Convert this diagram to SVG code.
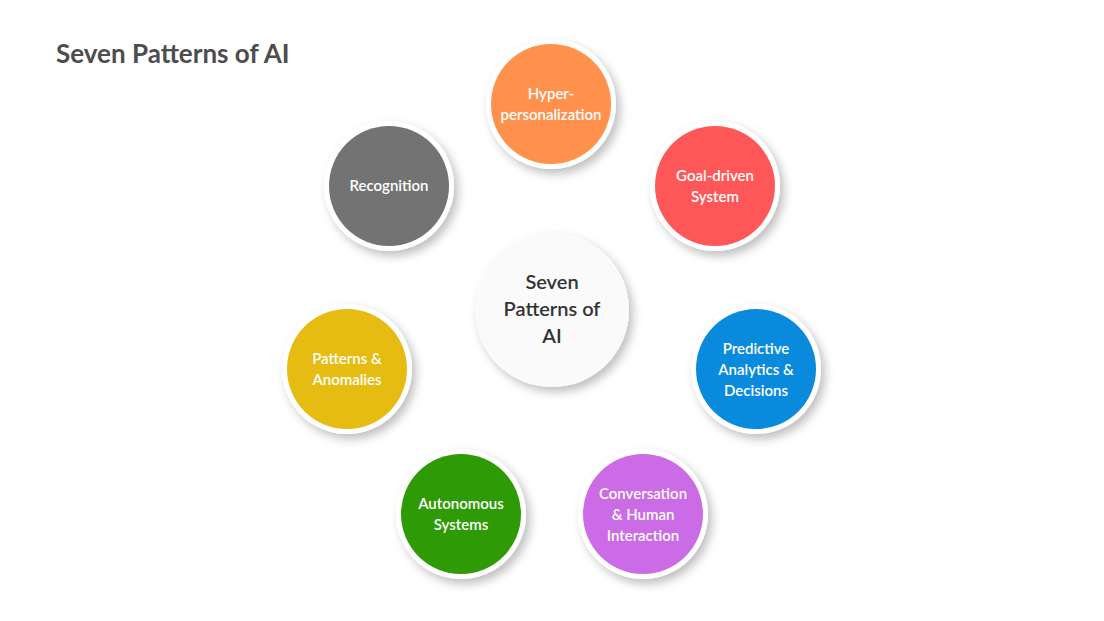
<svg xmlns="http://www.w3.org/2000/svg" width="1104" height="621" viewBox="0 0 1104 621">
<defs>
<filter id="sh" x="-30%" y="-30%" width="160%" height="160%"><feDropShadow dx="4" dy="5" stdDeviation="5" flood-color="#000" flood-opacity="0.25"/></filter>
<style>
.ring{fill:#fff;filter:url(#sh)}
.lbl{font-family:Lato,"Open Sans",sans-serif;font-size:15px;font-weight:600;fill:#fff;text-anchor:middle}
.ctr{font-family:Lato,"Open Sans",sans-serif;font-size:20px;font-weight:600;fill:#333;text-anchor:middle}
</style>
</defs>
<rect width="1104" height="621" fill="#fff"/>
<text x="56" y="63" font-family="Lato,'Open Sans',sans-serif" font-size="26" font-weight="700" fill="#4d4d4d">Seven Patterns of AI</text>
<g id="connectors"/>
<g id="center"><circle cx="552" cy="310" r="77" fill="#fafafa" filter="url(#sh)"/>
<text class="ctr" x="552" y="289">Seven</text><text class="ctr" x="552" y="316">Patterns of</text><text class="ctr" x="552" y="343">AI</text></g>
<g id="hyper"><circle class="ring" cx="551" cy="104" r="65"/><circle cx="551" cy="104" r="60" fill="#FF914D"/>
<text class="lbl" x="551" y="99">Hyper-</text><text class="lbl" x="551" y="120">personalization</text></g>
<g id="recognition"><circle class="ring" cx="389" cy="186" r="65"/><circle cx="389" cy="186" r="60" fill="#737373"/>
<text class="lbl" x="389" y="191">Recognition</text></g>
<g id="goal"><circle class="ring" cx="715" cy="186" r="65"/><circle cx="715" cy="186" r="60" fill="#FF5757"/>
<text class="lbl" x="715" y="181">Goal-driven</text><text class="lbl" x="715" y="202">System</text></g>
<g id="patterns"><circle class="ring" cx="347" cy="369" r="65"/><circle cx="347" cy="369" r="60" fill="#E6BC12"/>
<text class="lbl" x="347" y="364">Patterns &amp;</text><text class="lbl" x="347" y="385">Anomalies</text></g>
<g id="predictive"><circle class="ring" cx="756" cy="369" r="65"/><circle cx="756" cy="369" r="60" fill="#0A8ADD"/>
<text class="lbl" x="756" y="354">Predictive</text><text class="lbl" x="756" y="375">Analytics &amp;</text><text class="lbl" x="756" y="396">Decisions</text></g>
<g id="autonomous"><circle class="ring" cx="461" cy="514" r="65"/><circle cx="461" cy="514" r="60" fill="#2E9A05"/>
<text class="lbl" x="461" y="509">Autonomous</text><text class="lbl" x="461" y="530">Systems</text></g>
<g id="conversation"><circle class="ring" cx="643" cy="514" r="65"/><circle cx="643" cy="514" r="60" fill="#CB6CE6"/>
<text class="lbl" x="643" y="499">Conversation</text><text class="lbl" x="643" y="520">&amp; Human</text><text class="lbl" x="643" y="541">Interaction</text></g>
</svg>
